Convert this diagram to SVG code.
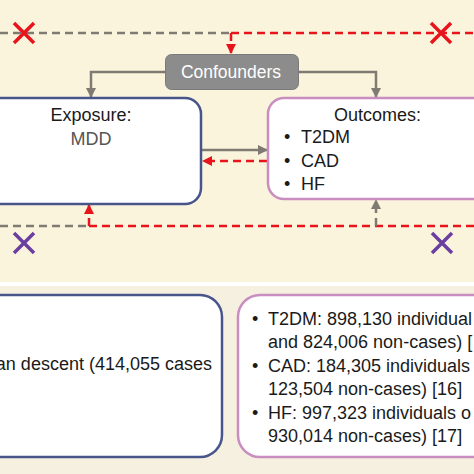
<svg xmlns="http://www.w3.org/2000/svg" width="474" height="474" viewBox="0 0 474 474">
<defs>
<style>
text{font-family:"Liberation Sans",Arial,sans-serif;font-size:18px;fill:#1a1a1a}
.gd{stroke:#7f7b73;stroke-width:2.5;stroke-dasharray:8,5;fill:none}
.rd{stroke:#e8141c;stroke-width:2.5;stroke-dasharray:8,5;fill:none}
.gs{stroke:#7f7b73;stroke-width:2.5;fill:none}
.rx{stroke:#e8141c;stroke-width:3.5}
.px{stroke:#6a3fa0;stroke-width:3.5}
.exp{fill:#fff;stroke:#48558a;stroke-width:2.5}
.out{fill:#fff;stroke:#c98dbf;stroke-width:2.5}
</style>
<marker id="ag" viewBox="0 0 10 10" refX="9" refY="5" markerWidth="4" markerHeight="4" orient="auto"><path d="M0,0L10,5L0,10z" fill="#7f7b73"/></marker>
<marker id="ar" viewBox="0 0 10 10" refX="9" refY="5" markerWidth="4" markerHeight="4" orient="auto"><path d="M0,0L10,5L0,10z" fill="#e8141c"/></marker>
</defs>
<rect x="0" y="0" width="474" height="282" fill="#faf4dd"/>
<rect x="0" y="282" width="474" height="4" fill="#ffffff"/>
<rect x="0" y="286" width="474" height="188" fill="#f6f0e1"/>

<g id="connectors">
<line class="gd" x1="0" y1="33" x2="231" y2="33"/>
<line class="rd" x1="231" y1="33" x2="474" y2="33"/>
<line class="rd" x1="231" y1="33" x2="231" y2="53" stroke-dasharray="none" marker-end="url(#ar)"/>
<path class="gs" d="M166,72H91V97" marker-end="url(#ag)"/>
<path class="gs" d="M298,72H376V97" marker-end="url(#ag)"/>
<line class="gs" x1="202" y1="150" x2="267" y2="150" marker-end="url(#ag)"/>
<line class="rd" x1="267" y1="161" x2="203" y2="161" marker-end="url(#ar)"/>
<line class="gd" x1="0" y1="226" x2="89" y2="226"/>
<line class="rd" x1="89" y1="226" x2="474" y2="226"/>
<line class="rd" x1="89" y1="226" x2="89" y2="205" stroke-dasharray="6,4" marker-end="url(#ar)"/>
<line class="gd" x1="376" y1="226" x2="376" y2="200" stroke-dasharray="6,4" marker-end="url(#ag)"/>
<path class="rx" d="M14,23L34,43M34,23L14,43"/>
<path class="rx" d="M431,23L451,43M451,23L431,43"/>
<path class="px" d="M14,233L34,253M34,233L14,253"/>
<path class="px" d="M432,233L452,253M452,233L432,253"/>
</g>

<g id="confounders">
<rect x="165.5" y="54.5" width="133" height="35" rx="6" fill="#8c8c8c" stroke="#7a7a7a"/>
<text x="231" y="78" text-anchor="middle" style="fill:#fff;font-size:17.5px">Confounders</text>
</g>

<g id="exposure">
<rect class="exp" x="-30" y="98" width="231" height="106" rx="16"/>
<text x="91" y="121" text-anchor="middle">Exposure:</text>
<text x="91" y="145" text-anchor="middle" style="fill:#555">MDD</text>
</g>

<g id="outcomes">
<rect class="out" x="268" y="98" width="230" height="101" rx="16"/>
<text x="377.5" y="121" text-anchor="middle">Outcomes:</text>
<text x="284" y="143">•</text><text x="301" y="143">T2DM</text>
<text x="284" y="167">•</text><text x="301" y="167">CAD</text>
<text x="284" y="190">•</text><text x="301" y="190">HF</text>
</g>

<g id="exposure-data">
<rect class="exp" x="-30" y="295" width="252" height="162" rx="22"/>
<text x="212" y="370" text-anchor="end">an descent (414,055 cases</text>
</g>

<g id="outcome-data">
<rect class="out" x="238" y="295" width="260" height="162" rx="22"/>
<text x="252" y="325">•</text><text x="268" y="325">T2DM: 898,130 individual</text>
<text x="268" y="348">and 824,006 non-cases) [</text>
<text x="252" y="372">•</text><text x="268" y="372">CAD: 184,305 individuals</text>
<text x="268" y="395">123,504 non-cases) [16]</text>
<text x="252" y="419">•</text><text x="268" y="419">HF: 997,323 individuals o</text>
<text x="268" y="442">930,014 non-cases) [17]</text>
</g>
</svg>
